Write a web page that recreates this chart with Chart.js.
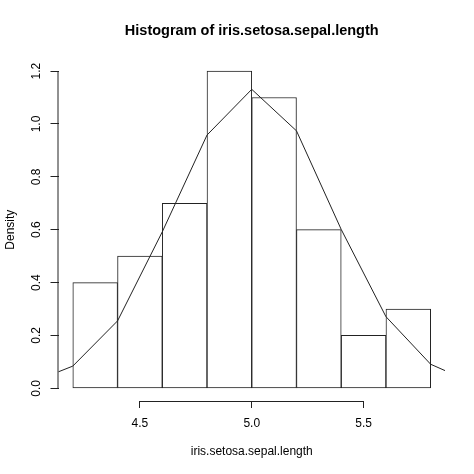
<!DOCTYPE html>
<html>
<head>
<meta charset="utf-8">
<script src="https://cdn.jsdelivr.net/npm/chart.js@4/dist/chart.umd.min.js"></script>
<style>
html,body{margin:0;padding:0;background:#fff;}
#wrap{width:474px;height:474px;}
</style>
</head>
<body>
<div id="wrap"><canvas id="c" width="474" height="474"></canvas></div>
<script>
// histogram bins (midpoints, width 0.2) and densities
const binMids=[4.3,4.5,4.7,4.9,5.1,5.3,5.5,5.7];
const density=[0.4,0.5,0.7,1.2,1.1,0.6,0.2,0.3];
// density polyline
const lineX=[4.0,4.2,4.4,4.6,4.8,5.0,5.2,5.4,5.6,5.8,6.0];
const lineY=[0.017,0.084,0.255,0.592,0.958,1.131,0.974,0.601,0.271,0.091,0.016];
const xTicks=[4.5,5.0,5.5];
const yTicks=[0,0.2,0.4,0.6,0.8,1.0,1.2];

const ink="#222";
const font={family:"'Liberation Sans', Arial, Helvetica, sans-serif",size:12};

// R style axis line: only from first to last tick
const axisLines={
id:"axisLines",
afterDraw(chart){
const c=chart.ctx,a=chart.chartArea,x=chart.scales.x,y=chart.scales.y;
c.save();c.strokeStyle=ink;c.lineWidth=1;c.beginPath();
c.moveTo(x.getPixelForValue(xTicks[0]),a.bottom+0.5);
c.lineTo(x.getPixelForValue(xTicks[xTicks.length-1]),a.bottom+0.5);
c.moveTo(a.left-0.5,y.getPixelForValue(yTicks[0]));
c.lineTo(a.left-0.5,y.getPixelForValue(yTicks[yTicks.length-1]));
c.stroke();c.restore();
}
};

new Chart(document.getElementById("c"),{
type:"bar",
data:{datasets:[
{type:"line",data:lineX.map((v,i)=>({x:v,y:lineY[i]})),borderColor:ink,borderWidth:1,pointRadius:0,tension:0,fill:false},
{type:"bar",data:binMids.map((v,i)=>({x:v,y:density[i]})),backgroundColor:"#fff",borderColor:ink,borderWidth:1,borderSkipped:false,barPercentage:1,categoryPercentage:1,grouped:false}
]},
options:{
responsive:false,animation:false,
layout:{padding:{left:0,right:29,top:0,bottom:0}},
plugins:{
legend:{display:false},tooltip:{enabled:false},
title:{display:true,fullSize:false,text:"Histogram of iris.setosa.sepal.length",color:"#000",
font:{family:font.family,size:14.5,weight:"bold"},padding:{top:22,bottom:19}}
},
scales:{
x:{type:"linear",min:4.136,max:5.864,offset:false,
afterBuildTicks(s){s.ticks=xTicks.map(v=>({value:v}));},
afterFit(s){s.height=73;},
border:{display:false},
grid:{display:true,offset:false,drawOnChartArea:false,drawTicks:true,tickLength:7,color:ink},
ticks:{color:"#000",font:font,padding:8,maxRotation:0,callback:v=>v.toFixed(1)},
title:{display:true,text:"iris.setosa.sepal.length",color:"#000",font:font,padding:{top:0,bottom:15}}
},
y:{type:"linear",min:-0.048,max:1.248,
afterBuildTicks(s){s.ticks=yTicks.map(v=>({value:v}));},
afterFit(s){s.width=58.5;},
border:{display:false},
grid:{display:true,drawOnChartArea:false,drawTicks:true,tickLength:8,color:ink},
ticks:{color:"#000",font:font,padding:5,minRotation:90,maxRotation:90,crossAlign:"center",callback:v=>v.toFixed(1)},
title:{display:true,text:"Density",color:"#000",font:font,padding:{top:3,bottom:0}}
}
}
},
plugins:[axisLines]
});
</script>
</body>
</html>
